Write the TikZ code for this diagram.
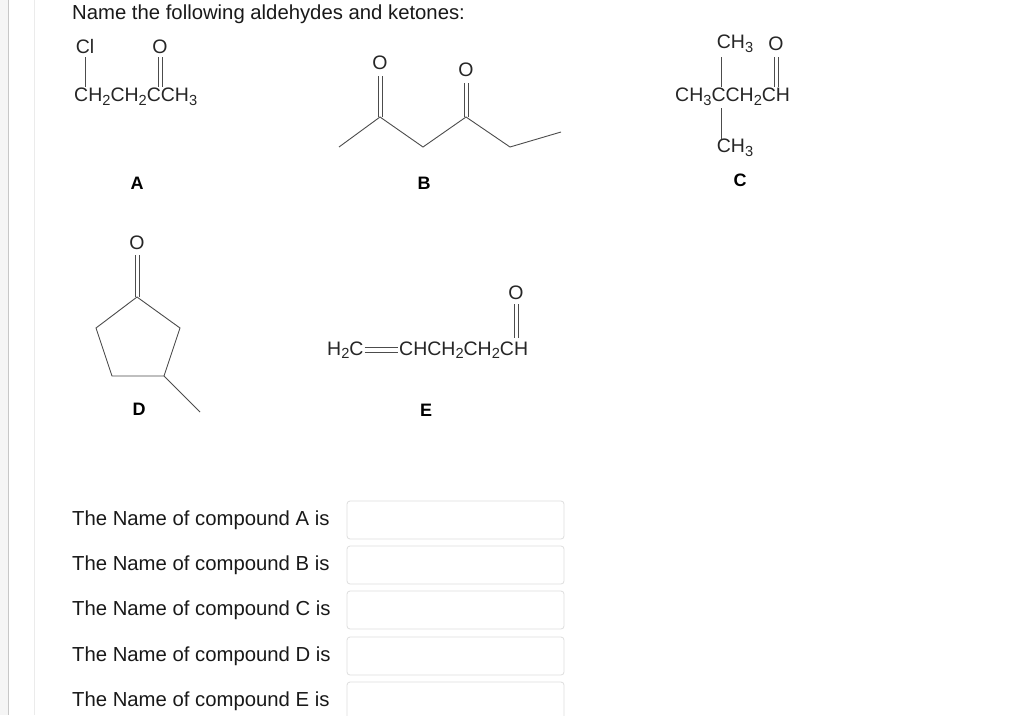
\documentclass[tikz,border=0pt]{standalone}
\usepackage{fontspec}
\setmainfont{Liberation Sans}
\newcommand\sbs[1]{\raisebox{-0.35ex}{\scalebox{0.75}{#1}}}
\begin{document}
\begin{tikzpicture}[x=1pt,y=-1pt,
  chem/.style={font=\fontsize{19.5}{22}\selectfont,inner sep=0pt,text=black!85},
  lbl/.style={font=\fontsize{18}{20}\selectfont\bfseries,inner sep=0pt},
  qtext/.style={font=\fontsize{20.3}{24}\selectfont,inner sep=0pt,anchor=west,text=black!90},
  ansbox/.style={draw=black!13,rounded corners=3pt,line width=0.8pt},
  bond/.style={draw=black!70,line width=0.9pt}]
\useasboundingbox (0,0) rectangle (1024,715);
\fill[white] (0,0) rectangle (1024,715);
\fill[black!4] (0,0) rectangle (8,715);
\draw[black!22,line width=0.8pt] (8,0) -- (8,715);
\draw[black!8,line width=0.6pt] (34,0) -- (34,715);
\node[qtext] (title) at (72,14) {Name the following aldehydes and ketones:};
% A
\node[chem] (aCl) at (85,47) {Cl};
\node[chem] (aO) at (160,47) {O};
\node[chem,anchor=west] (aMain) at (74,97) {CH\sbs{2}CH\sbs{2}CCH\sbs{3}};
\draw[bond] (85,57) -- (85,87);
\draw[bond] (158,57) -- (158,87) (162,57) -- (162,87);
\node[lbl] (lA) at (137,183) {A};
% B
\coordinate (b1) at (339,147); \coordinate (b2) at (380,117);
\coordinate (b3) at (423,147); \coordinate (b4) at (466,117);
\coordinate (b5) at (510,147); \coordinate (b6) at (561,132);
\draw[bond] (b1) -- (b2) -- (b3) -- (b4) -- (b5) -- (b6);
\node[chem] (bO1) at (380,63) {O};
\node[chem] (bO2) at (466,70) {O};
\draw[bond] ([xshift=-2]b2) -- ([xshift=-2]380,76) ([xshift=2]b2) -- ([xshift=2]380,76);
\draw[bond] ([xshift=-2]b4) -- ([xshift=-2]466,83) ([xshift=2]b4) -- ([xshift=2]466,83);
\node[lbl] (lB) at (424,183) {B};
% C
\node[chem] (cTop) at (735,44) {CH\sbs{3}};
\node[chem] (cO) at (776,44) {O};
\node[chem,anchor=west] (cMain) at (675,97) {CH\sbs{3}CCH\sbs{2}CH};
\node[chem] (cBot) at (735,148) {CH\sbs{3}};
\draw[bond] (721,57) -- (721,87) (721,108) -- (721,139);
\draw[bond] (774,57) -- (774,87) (778,57) -- (778,87);
\node[lbl] (lC) at (740,180) {C};
% D
\coordinate (d1) at (137,297); \coordinate (d2) at (180,328);
\coordinate (d3) at (164,376); \coordinate (d4) at (112,376);
\coordinate (d5) at (96,328); \coordinate (d6) at (200,412);
\draw[bond] (d1) -- (d2) -- (d3) -- (d4) -- (d5) -- cycle;
\draw[bond] (d3) -- (d6);
\node[chem] (dO) at (137,243) {O};
\draw[bond] (135,255) -- (135,297) (139,255) -- (139,297);
\node[lbl] (lD) at (139,409) {D};
% E
\node[chem,anchor=west] (eL) at (327,350) {H\sbs{2}C};
\node[chem,anchor=west] (eR) at (399,350) {CHCH\sbs{2}CH\sbs{2}CH};
\draw[bond] ([xshift=1,yshift=-2.2]eL.east) -- ([xshift=-1,yshift=-2.2]eR.west);
\draw[bond] ([xshift=1,yshift=2.2]eL.east) -- ([xshift=-1,yshift=2.2]eR.west);
\node[chem] (eO) at (516,293) {O};
\draw[bond] (514,304) -- (514,338) (518,304) -- (518,338);
\node[lbl] (lE) at (426,410) {E};
% questions
\foreach \L/\y in {A/520,B/565,C/610,D/656,E/701}{
  \node[qtext] (q\L) at (72,\y) {The Name of compound \L\ is};
  \draw[ansbox] (347,\y-19) rectangle (564,\y+19);
}
\end{tikzpicture}
\end{document}
